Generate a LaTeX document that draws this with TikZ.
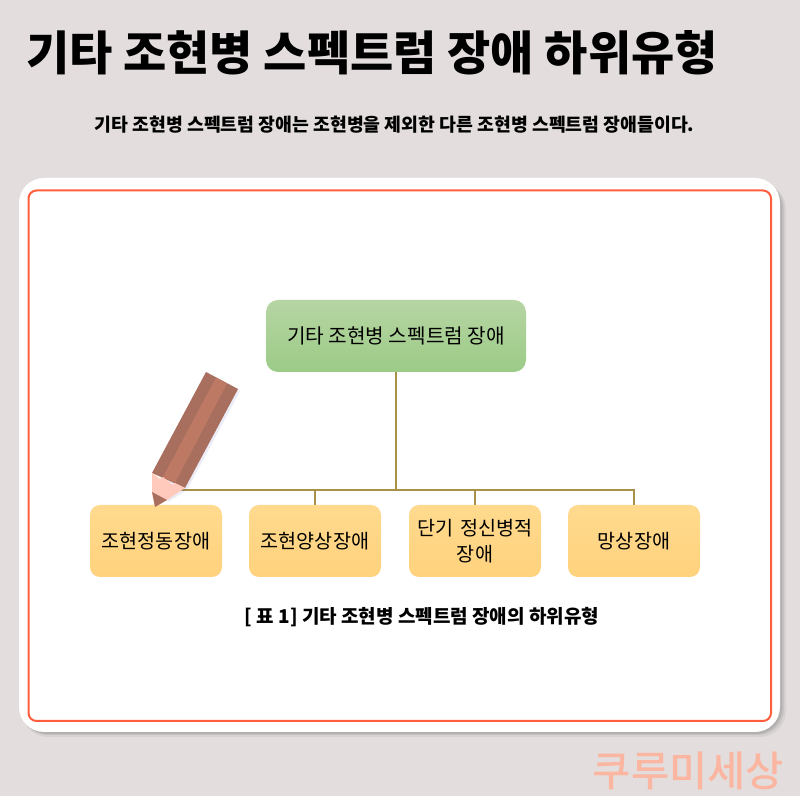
\documentclass[tikz,border=0pt]{standalone}
\usepackage{fontspec}
\setmainfont{Noto Sans CJK KR}
\newfontfamily\brandfont{Noto Sans CJK KR Medium}
\usetikzlibrary{positioning}
\definecolor{paper}{HTML}{E3DEDD}
\definecolor{frame}{HTML}{FF5E3E}
\definecolor{stem}{HTML}{A8924A}
\definecolor{leafgreen}{HTML}{9CCB87}
\definecolor{leafgreentop}{HTML}{B6D5A3}
\definecolor{soft}{HTML}{FFD27D}
\definecolor{softtop}{HTML}{FFDA8E}
\definecolor{brandpink}{HTML}{FBB6A2}
\definecolor{wood}{HTML}{A86F5E}
\definecolor{woodlight}{HTML}{BD7963}
\definecolor{skin}{HTML}{FFC9BB}
\tikzset{
  rootbox/.style={rounded corners=6pt, top color=leafgreentop, bottom color=leafgreen, draw=none,
    minimum width=130pt, minimum height=36pt, font=\fontsize{10.1pt}{12pt}\selectfont, align=center},
  kidbox/.style={rounded corners=5pt, top color=softtop, bottom color=soft, draw=none, inner sep=2pt,
    minimum width=66pt, minimum height=36pt, font=\fontsize{9.8pt}{13pt}\selectfont, align=center, text width=62pt},
  treeline/.style={draw=stem, line width=0.6pt},
}
\begin{document}
\begin{tikzpicture}[x=0.5pt,y=-0.5pt]
\useasboundingbox (0,0) rectangle (800,796);
\fill[paper] (0,0) rectangle (800,796);

% headline
\node[font=\fontsize{23.5pt}{28pt}\selectfont\bfseries, inner sep=0pt] (headline) at (372,53) {기타 조현병 스펙트럼 장애 하위유형};
\node[font=\fontsize{9.15pt}{11pt}\selectfont\bfseries, inner sep=0pt] (subline) at (394.5,125) {기타 조현병 스펙트럼 장애는 조현병을 제외한 다른 조현병 스펙트럼 장애들이다.};

% card
\fill[black!50, opacity=0.12, rounded corners=13pt] (22,183) rectangle (786,737);
\fill[black!50, opacity=0.2, rounded corners=13pt] (22,182) rectangle (784,735);
\fill[black!50, opacity=0.25, rounded corners=13pt] (21,181) rectangle (782,734);
\fill[white, rounded corners=12.5pt] (19,178) rectangle (780,732);
\draw[frame, line width=1pt, rounded corners=4pt] (28.5,190.5) rectangle (771,721);

% tree
\node[rootbox] (root) at (396,336) {기타 조현병 스펙트럼 장애};
\node[kidbox] (kidA) at (156,541) {조현정동장애};
\node[kidbox] (kidB) at (315,541) {조현양상장애};
\node[kidbox] (kidC) at (475,541) {단기 정신병적\\장애};
\node[kidbox] (kidD) at (634,541) {망상장애};
\coordinate (hub) at (396,490);
\draw[treeline] (root.south) -- (hub);
\draw[treeline] (hub) -| (kidA.north);
\draw[treeline] (hub) -| (kidB.north);
\draw[treeline] (hub) -| (kidC.north);
\draw[treeline] (hub) -| (kidD.north);

\node[font=\fontsize{9.5pt}{11pt}\selectfont\bfseries, inner sep=0pt] (caption) at (422,617) {[ 표 1] 기타 조현병 스펙트럼 장애의 하위유형};

% pencil
\fill[blue!40!gray, opacity=0.1] (207,374) -- (240,391) -- (187,490) -- (168,502) -- (160,480) -- cycle;
\fill[wood] (206,372) -- (238,389) -- (185,488) -- (152,473) -- cycle;
\fill[woodlight] (216,377.5) -- (227,383.5) -- (175,483) -- (163,477) -- cycle;
\fill[skin] (152,473) -- (160,479) -- (163,477) -- (173,485) -- (175,483) -- (185,488) -- (167,500) -- (155,507) -- (152,492) -- cycle;
\fill[wood] (152,492) -- (167,500) -- (155,507) -- cycle;

% brand
\node[font=\fontsize{20.8pt}{24pt}\selectfont\brandfont, text=brandpink, inner sep=0pt] (brand) at (688.5,771) {쿠루미세상};
\end{tikzpicture}
\end{document}
